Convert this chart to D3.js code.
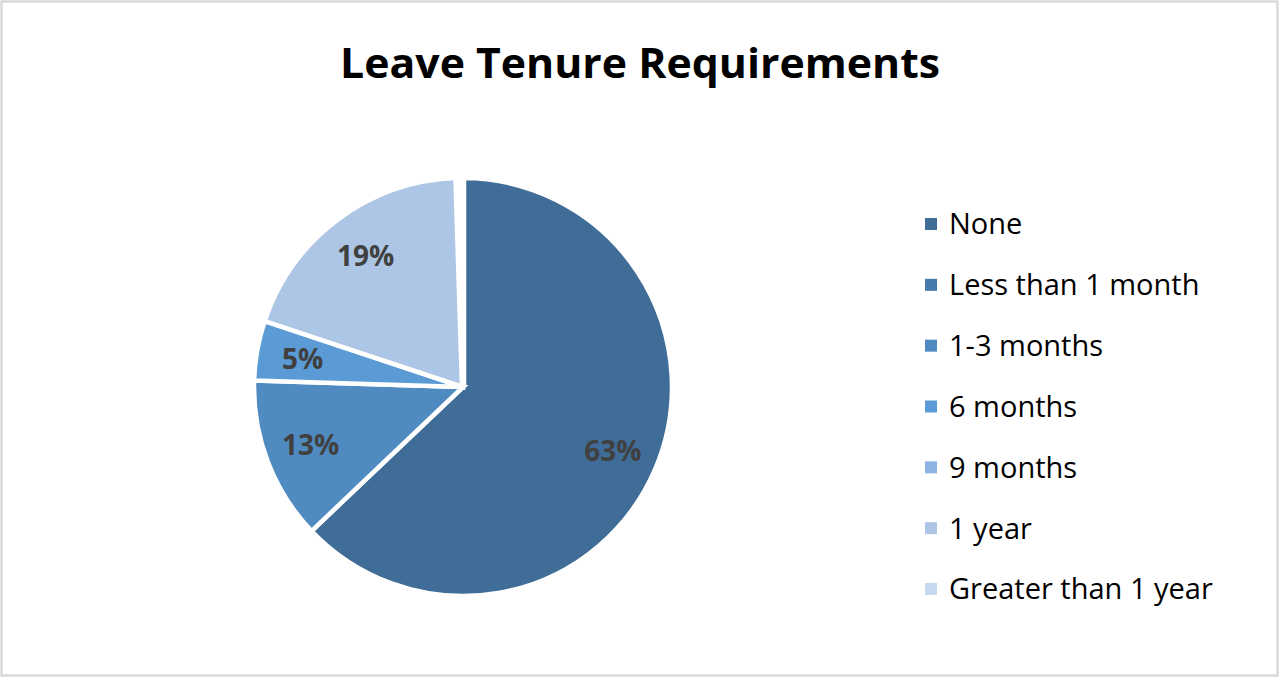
<!DOCTYPE html>
<html>
<head>
<meta charset="utf-8">
<script src="https://cdn.jsdelivr.net/npm/d3@7"></script>
<style>
  body { margin: 0; background: #fff; }
  svg { display: block; }
</style>
</head>
<body>
<div id="chart"></div>
<script>
// Werte (Winkel der Segmente)
var categories = ["None", "Less than 1 month", "1-3 months", "6 months", "9 months", "1 year", "Greater than 1 year"];
var values = [62.9, 0, 12.6, 4.6, 0, 19.4, 0.5];
var colors = ["#3F6D97", "#4779AB", "#4F8BC0", "#5B9BD5", "#8DB3E2", "#AEC6E5", "#C6D7EE"];

var width = 1280;
var height = 678;
var cx = 463, cy = 387, radius = 209;

var svg = d3.select("#chart").append("svg")
    .attr("width", width)
    .attr("height", height);

// rahmen
svg.append("rect")
    .attr("x", 1.5).attr("y", 1.5)
    .attr("width", width - 4).attr("height", height - 4)
    .style("fill", "white")
    .style("stroke", "#D9D9D9")
    .style("stroke-width", 2.5);

// titel
svg.append("text")
    .attr("x", 640)
    .attr("y", 78)
    .attr("text-anchor", "middle")
    .style("font-family", "'Open Sans', sans-serif")
    .style("font-weight", "bold")
    .style("font-size", "42px")
    .attr("textLength", 600)
    .attr("lengthAdjust", "spacingAndGlyphs")
    .text("Leave Tenure Requirements");

var data = categories.map(function(c, i) {
  return { name: c, value: values[i], color: colors[i] };
});

var pie = d3.pie().sort(null).value(function(d) { return d.value; });
var arc = d3.arc().innerRadius(0).outerRadius(radius);
var labelArc = d3.arc().innerRadius(radius * 0.78).outerRadius(radius * 0.78);

var g = svg.append("g").attr("transform", "translate(" + cx + "," + cy + ")");

var slices = pie(data).filter(function(d) { return d.data.value > 0; });

// winzige segmente verschwinden fast im weissen rand
g.selectAll("path")
    .data(slices)
  .enter().append("path")
    .attr("d", arc)
    .style("fill", function(d) { return d.data.color; })
    .style("stroke", "white")
    .style("stroke-width", function(d) { return d.data.value < 1 ? 6.5 : 4.5; })
    .style("stroke-linejoin", "miter");

// nur labels ab 1%
g.selectAll("text")
    .data(slices.filter(function(d) { return d.data.value >= 1; }))
  .enter().append("text")
    .attr("transform", function(d) { return "translate(" + labelArc.centroid(d) + ")"; })
    .attr("text-anchor", "middle")
    .attr("dy", "0.36em")
    .style("font-family", "'Open Sans', sans-serif")
    .style("font-weight", "bold")
    .style("font-size", "28px")
    .style("fill", "#404040")
    .text(function(d) { return Math.round(d.data.value) + "%"; });

// legende
var legendY = d3.scalePoint().domain(categories).range([224, 589]);

var legend = svg.append("g");
var items = legend.selectAll("g")
    .data(data)
  .enter().append("g")
    .attr("transform", function(d) { return "translate(925," + legendY(d.name) + ")"; });

items.append("rect")
    .attr("x", 0).attr("y", -6)
    .attr("width", 12).attr("height", 12)
    .style("fill", function(d) { return d.color; });

items.append("text")
    .attr("x", 24)
    .attr("dy", "0.36em")
    .style("font-family", "'Open Sans', sans-serif")
    .style("font-size", "29px")
    .style("fill", "#000")
    .text(function(d) { return d.name; });
</script>
</body>
</html>
